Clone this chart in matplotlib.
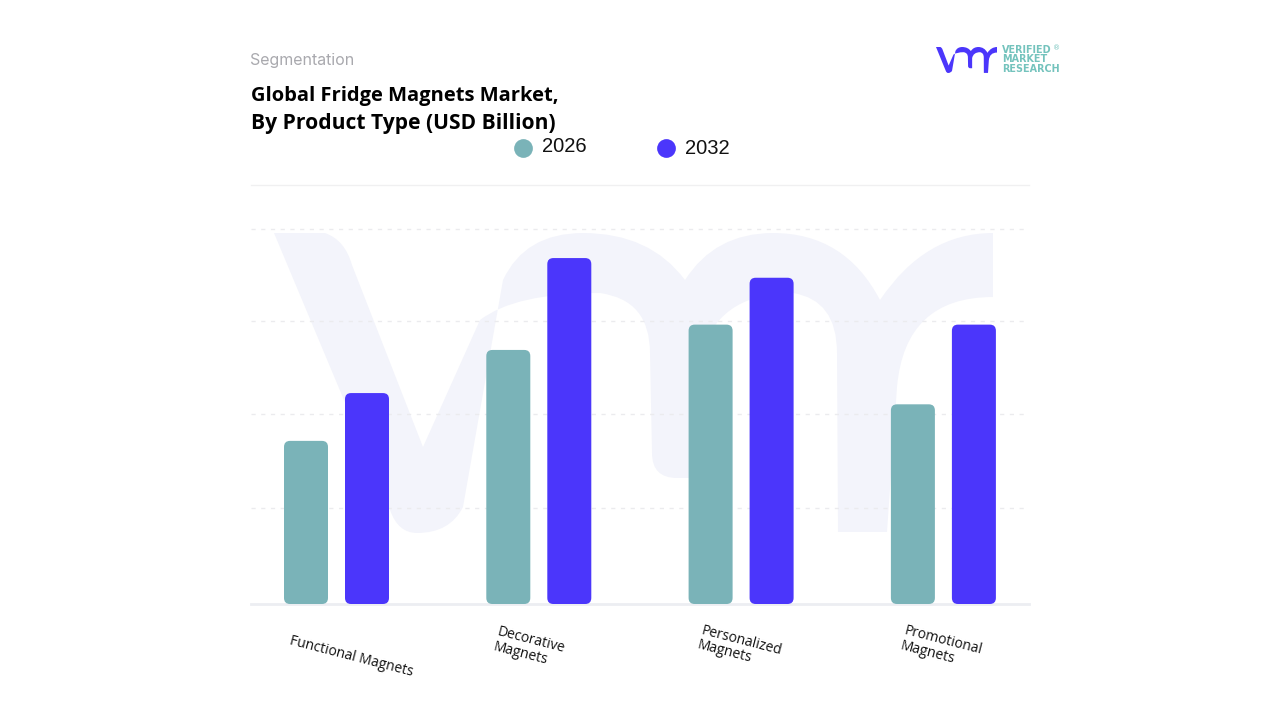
import matplotlib
matplotlib.use('Agg')
import matplotlib.pyplot as plt
from matplotlib.patches import FancyBboxPatch, PathPatch
from matplotlib.path import Path

categories = ['Functional Magnets', 'Decorative\nMagnets', 'Personalized\nMagnets', 'Promotional\nMagnets']
years = ['2026', '2032']
values_2026 = [1.74, 2.71, 2.98, 2.13]
values_2032 = [2.25, 3.69, 3.48, 2.98]
grid_levels = [1.02, 2.03, 3.02, 4.0]

W, H = 1280, 720
TEAL, BLUE = '#7ab3b8', '#4b36fb'
fig = plt.figure(figsize=(12.8, 7.2), dpi=100, facecolor='white')

# pixel-space layer for decoration
bg = fig.add_axes([0, 0, 1, 1], zorder=0)
bg.set_xlim(0, W); bg.set_ylim(H, 0); bg.axis('off')

M, L, C, Z = Path.MOVETO, Path.LINETO, Path.CURVE3, Path.CLOSEPOLY
# outline of the brand mark, as (code, x, y) in its watermark-size frame
mark = [
    (M, 274, 233), (L, 325, 233), (C, 345, 240), (C, 352, 265),
    (L, 423, 447), (L, 480, 320), (C, 515, 293), (C, 600, 293),
    (C, 650, 300), (C, 650, 353), (L, 652, 453), (C, 652, 478), (C, 677, 478),
    (L, 700, 478), (L, 700, 360), (C, 715, 293), (C, 793, 293),
    (C, 837, 300), (C, 837, 353), (L, 838, 532), (L, 887, 532), (L, 897, 387),
    (C, 905, 297), (C, 993, 297), (L, 993, 233), (C, 925, 233), (C, 880, 300),
    (C, 845, 233), (C, 773, 233), (C, 715, 233), (C, 685, 280),
    (C, 650, 233), (C, 583, 233), (C, 525, 233), (C, 503, 280),
    (L, 463, 507), (C, 450, 533), (C, 417, 533), (C, 398, 533), (C, 390, 510),
    (Z, 274, 233),
]

def draw_mark(a, scale_x, scale_y, ox, oy, color, zorder=1):
    verts = [(ox + (x - 274) * scale_x, oy + (y - 233) * scale_y) for _, x, y in mark]
    codes = [c for c, _, _ in mark]
    a.add_patch(PathPatch(Path(verts, codes), fc=color, ec='none', zorder=zorder))

draw_mark(bg, 1, 1, 274, 233, '#f3f4fb')
draw_mark(bg, 61 / 719, 26 / 300, 936, 47, BLUE)

# main chart
PX_L, PX_R, PX_T, PX_B = 251, 1029, 185, 604
ax = fig.add_axes([PX_L / W, 1 - PX_B / H, (PX_R - PX_L) / W, (PX_B - PX_T) / H], zorder=2)
ax.patch.set_alpha(0)
n = len(categories)
unit = 202.3
ax.set_xlim((PX_L - 336.5) / unit, (PX_R - 336.5) / unit)
ymax = (PX_B - PX_T) / 93.75
ax.set_ylim(0, ymax)
for s in ['left', 'right', 'bottom']:
    ax.spines[s].set_visible(False)
ax.spines['top'].set_color('#f0f0f1'); ax.spines['top'].set_linewidth(1)
ax.set_yticks(grid_levels); ax.set_yticklabels([])
ax.tick_params(length=0)
ax.grid(axis='y', color='#ebebee', lw=1, ls=(0, (3, 4)))
ax.set_axisbelow(True)
ax.axhline(0, color='#eceef2', lw=2, clip_on=False, zorder=1)

bw = 44 / unit
off = 30.5 / unit
aspect = (1 / 93.75) / (1 / unit)
for i in range(n):
    for v, c, d in ((values_2026[i], TEAL, -off), (values_2032[i], BLUE, off)):
        ax.add_patch(FancyBboxPatch((i + d - bw / 2, 0), bw, v,
                                    boxstyle='round,pad=0,rounding_size=0.03',
                                    mutation_aspect=aspect, fc=c, ec='none', zorder=3))

ax.set_xticks(range(n)); ax.set_xticklabels([])
label_pos = [(351, 657), (529, 648), (740, 648), (941, 648)]
for (x, y), lab in zip(label_pos, categories):
    bg.text(x, y, lab, rotation=-14.5, rotation_mode='anchor', ha='center', va='center', ma='left',
            fontsize=10, family='Open Sans', color='#111111', linespacing=1.05)

# headers
bg.text(250, 60, 'Segmentation', fontsize=11.5, family='Inter', color='#a9a9ae', va='center')
bg.text(251, 96, 'Global Fridge Magnets Market,', fontsize=14.5, family='Open Sans', weight='bold', color='black', va='center')
bg.text(251, 124, 'By Product Type (USD Billion)', fontsize=15.1, family='Open Sans', weight='bold', color='black', va='center')

# legend
for x, y, c, tx, ty, lab in ((523, 147.5, TEAL, 542, 147, years[0]), (665.5, 147.5, BLUE, 685, 148, years[1])):
    bg.plot([x], [y], 'o', ms=13.5, color=c, mec='none')
    bg.text(tx, ty, lab, fontsize=14.5, family='Liberation Sans', color='#111111', va='center')

# logo text
for y, t in ((50, 'VERIFIED'), (59.5, 'MARKET'), (69, 'RESEARCH')):
    bg.text(1002, y, t, fontsize=6.9, family='DejaVu Sans', weight='semibold', color='#74c3bd', va='center')
bg.text(1057, 48, '®', fontsize=5, color='#74c3bd', va='center', ha='center')

fig.savefig('out.png', dpi=100, facecolor='white')
